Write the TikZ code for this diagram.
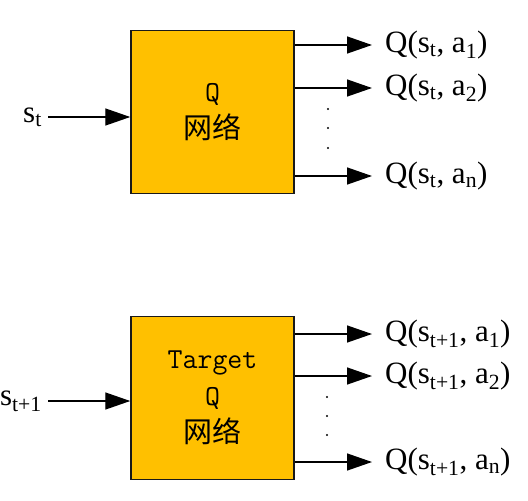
\documentclass[tikz,border=0pt]{standalone}
\usepackage{fontspec}
\setmainfont{Liberation Serif}
\newfontfamily\cjk{Noto Sans CJK SC}
\usetikzlibrary{arrows.meta}

\definecolor{netfill}{HTML}{FFC000}
\tikzset{
	net/.style={draw=black!90, line width=1.5pt, fill=netfill, minimum width=163pt,
		minimum height=163pt, inner sep=0pt, align=center,
		font=\fontsize{29}{37}\ttfamily},
	arr/.style={line width=1.4pt, -{Triangle[length=25pt, width=17pt]}},
	qlabel/.style={anchor=west, inner sep=0pt, font=\fontsize{31}{34}\selectfont},
	slabel/.style={anchor=east, inner sep=0pt, font=\fontsize{31}{34}\selectfont}
}

\begin{document}
\begin{tikzpicture}[x=1pt, y=-1pt]
	\useasboundingbox (0,0) rectangle (528,501);

	% Q network
	\node [net] (qnet) at (212.5, 112) {Q\\{\cjk\fontsize{29}{37}\selectfont 网络}};
	\node [slabel] (st) at (42, 117) {s\textsubscript{t}};
	\draw [arr, shorten <=6pt] (st.east |- 0,117) -- (qnet.west |- 0,117);

	\node [qlabel] (qa1) at (385, 45) {Q(s\textsubscript{t}, a\textsubscript{1})};
	\node [qlabel] (qa2) at (385, 88) {Q(s\textsubscript{t}, a\textsubscript{2})};
	\node [qlabel] (qan) at (385, 176) {Q(s\textsubscript{t}, a\textsubscript{n})};
	\draw [arr, shorten >=13pt] (qnet.east |- qa1.west) -- (qa1.west);
	\draw [arr, shorten >=13pt] (qnet.east |- qa2.west) -- (qa2.west);
	\draw [arr, shorten >=13pt] (qnet.east |- qan.west) -- (qan.west);
	\foreach \y in {109, 128, 148}
		\fill (328, \y) circle (1.1pt);

	% Target Q network
	\node [net] (tnet) at (212.5, 398) {Target\\Q\\{\cjk\fontsize{29}{37}\selectfont 网络}};
	\node [slabel] (st1) at (42, 401) {s\textsubscript{t+1}};
	\draw [arr, shorten <=6pt] (st1.east |- 0,401) -- (tnet.west |- 0,401);

	\node [qlabel] (ta1) at (385, 334) {Q(s\textsubscript{t+1}, a\textsubscript{1})};
	\node [qlabel] (ta2) at (385, 376) {Q(s\textsubscript{t+1}, a\textsubscript{2})};
	\node [qlabel] (tan) at (385, 462) {Q(s\textsubscript{t+1}, a\textsubscript{n})};
	\draw [arr, shorten >=13pt] (tnet.east |- ta1.west) -- (ta1.west);
	\draw [arr, shorten >=13pt] (tnet.east |- ta2.west) -- (ta2.west);
	\draw [arr, shorten >=13pt] (tnet.east |- tan.west) -- (tan.west);
	\foreach \y in {397, 416, 435}
		\fill (327, \y) circle (1.1pt);
\end{tikzpicture}
\end{document}
